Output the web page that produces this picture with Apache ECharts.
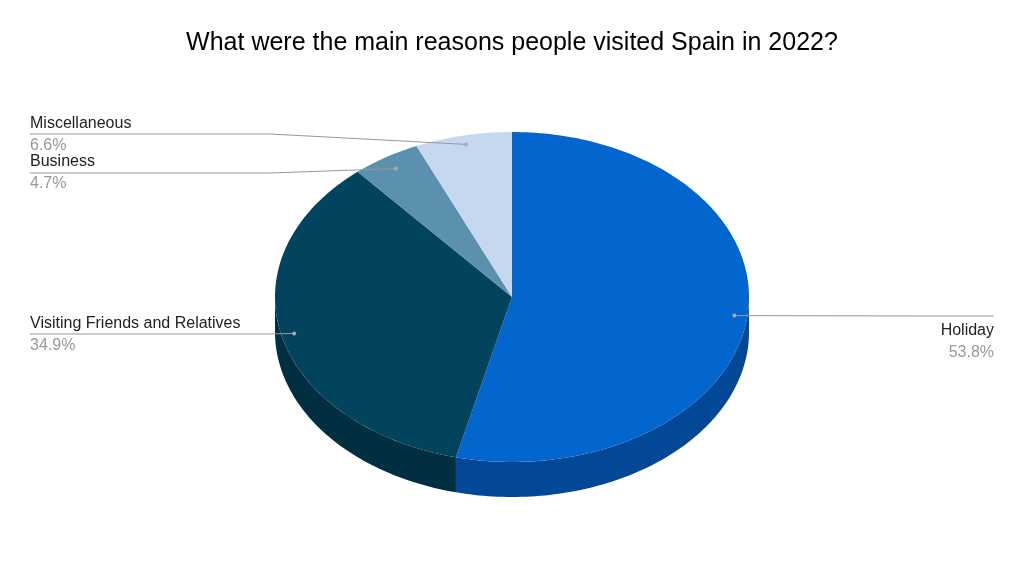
<!DOCTYPE html>
<html><head><meta charset="utf-8">
<script src="https://cdn.jsdelivr.net/npm/echarts@6/dist/echarts.min.js"></script>
<style>html,body{margin:0;background:#fff}#c{width:1024px;height:582px}</style>
</head><body><div id="c"></div>
<script>
var names = ['Holiday', 'Visiting Friends and Relatives', 'Business', 'Miscellaneous'];
var values = [53.8, 34.9, 4.7, 6.6];
var topColors = ['#0366cf', '#02435e', '#5b90ae', '#c5d8ef'];
var sideColors = ['#034897', '#012f42', '#40677d', '#8d9cad'];
// label layout: [textX, nameY, align, lineStartX, lineBendX, lineY]
var labelPos = [
  [994, 331, 'right', 994, 930, 316],
  [30, 324, 'left', 30, 270, 334],
  [30, 162, 'left', 30, 270, 173],
  [30, 124, 'left', 30, 270, 134]
];

var cx = 512, cy = 297, rx = 237, ry = 165, depth = 35;
var total = values.reduce(function (a, b) { return a + b; }, 0);
function pt(t, dy) { return [cx + rx * Math.sin(t), cy - ry * Math.cos(t) + (dy || 0)]; }
function arc(a0, a1, dy) {
  var pts = [], n = Math.max(4, Math.ceil((a1 - a0) / 0.02));
  for (var i = 0; i <= n; i++) pts.push(pt(a0 + (a1 - a0) * i / n, dy));
  return pts;
}

function renderItem(params, api) {
  var i = params.dataIndex;
  var before = 0;
  for (var k = 0; k < i; k++) before += values[k];
  var a0 = before / total * 2 * Math.PI, a1 = (before + values[i]) / total * 2 * Math.PI;
  var children = [];
  var s0 = Math.max(a0, Math.PI / 2), s1 = Math.min(a1, Math.PI * 1.5);
  if (s1 > s0) {
    var side = arc(s0, s1, 0).concat(arc(s0, s1, depth).reverse());
    children.push({ type: 'polygon', shape: { points: side }, style: { fill: sideColors[i] } });
  }
  var top = [[cx, cy]].concat(arc(a0, a1, 0));
  children.push({ type: 'polygon', shape: { points: top }, style: { fill: topColors[i] } });
  var mid = (a0 + a1) / 2;
  var anchor = [cx + rx * 0.945 * Math.sin(mid), cy - ry * 0.945 * Math.cos(mid)];
  if (i === 2) anchor = [cx + rx * 0.92 * Math.sin(mid), cy - ry * 0.92 * Math.cos(mid)];
  var L = labelPos[i];
  children.push({ type: 'polyline', shape: { points: [[L[3], L[5]], [L[4], L[5]], anchor] },
    style: { stroke: '#999', lineWidth: 1, fill: null } });
  children.push({ type: 'circle', shape: { cx: anchor[0], cy: anchor[1], r: 2 }, style: { fill: '#aaa' } });
  children.push({ type: 'text', x: L[0], y: L[1], style: { text: names[i], fill: '#222',
    font: '16px "Liberation Sans", Arial', textAlign: L[2], textVerticalAlign: 'middle' } });
  children.push({ type: 'text', x: L[0], y: L[1] + 22, style: { text: values[i].toFixed(1) + '%', fill: '#999',
    font: '16px "Liberation Sans", Arial', textAlign: L[2], textVerticalAlign: 'middle' } });
  return { type: 'group', children: children };
}

var chart = echarts.init(document.getElementById('c'));
chart.setOption({
  backgroundColor: '#fff',
  title: { text: 'What were the main reasons people visited Spain in 2022?', left: 'center', top: 26,
    textStyle: { fontSize: 25, fontWeight: 'normal', color: '#000', fontFamily: '"Liberation Sans", Arial' } },
  series: [{ type: 'custom', coordinateSystem: 'none', renderItem: renderItem, data: values, animation: false }]
});
</script></body></html>
